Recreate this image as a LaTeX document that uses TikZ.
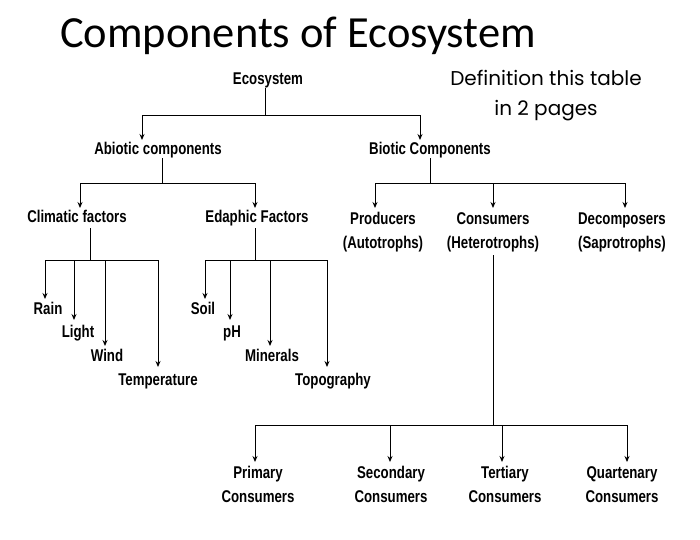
\documentclass[tikz,border=0pt]{standalone}
\usepackage{fontspec}
\setmainfont{Liberation Sans}
\newfontfamily\nar[FakeStretch=0.78]{Liberation Sans}
\newfontfamily\ttl{Carlito}
\newfontfamily\dfn{Poppins}
\usetikzlibrary{arrows.meta}
\begin{document}
\begin{tikzpicture}[x=1pt,y=-1pt,
  lab/.style={font=\nar\bfseries\fontsize{17}{24}\selectfont,inner sep=1pt,align=center,text height=12pt,text depth=3pt},
  ln/.style={line width=0.9pt},
  ar/.style={line width=0.9pt,-{Stealth[length=6pt,width=5pt]}}]
\useasboundingbox (0,0) rectangle (700,539);
\fill[white] (0,0) rectangle (700,539);
\node[font=\ttl\fontsize{44.5}{48}\selectfont] (title) at (298,36) {Components of Ecosystem};
\node[font=\dfn\fontsize{20}{30}\selectfont,align=center] (def) at (546,96) {Definition this table\\in 2 pages};
% level nodes
\node[lab] (eco) at (268,80) {Ecosystem};
\node[lab] (abio) at (158,150) {Abiotic components};
\node[lab] (bio) at (430,150) {Biotic Components};
\node[lab] (clim) at (77,218) {Climatic factors};
\node[lab] (edap) at (257,218) {Edaphic Factors};
\node[lab] (prod) at (383,244) {Producers\\(Autotrophs)};
\node[lab] (cons) at (493,244) {Consumers\\(Heterotrophs)};
\node[lab] (deco) at (622,244) {Decomposers\\(Saprotrophs)};
\node[lab] (rain) at (48,310) {Rain};
\node[lab] (light) at (78,333) {Light};
\node[lab] (wind) at (107,357) {Wind};
\node[lab] (temp) at (158,381) {Temperature};
\node[lab] (soil) at (203,310) {Soil};
\node[lab] (ph) at (232,333) {pH};
\node[lab] (min) at (272,357) {Minerals};
\node[lab] (topo) at (333,381) {Topography};
\node[lab] (prim) at (258,498) {Primary\\Consumers};
\node[lab] (sec) at (391,498) {Secondary\\Consumers};
\node[lab] (ter) at (505,498) {Tertiary\\Consumers};
\node[lab] (qua) at (622,498) {Quartenary\\Consumers};
% ecosystem
\draw[ln] (265,88) -- (265,115);
\draw[ln] (142,115) -- (420,115);
\draw[ar] (142,115) -- (142,140);
\draw[ar] (420,115) -- (420,140);
% abiotic
\draw[ln] (162,158) -- (162,183);
\draw[ln] (80,183) -- (255,183);
\draw[ar] (80,183) -- (80,208);
\draw[ar] (255,183) -- (255,208);
% biotic
\draw[ln] (430,158) -- (430,183);
\draw[ln] (375,183) -- (625,183);
\draw[ar] (375,183) -- (375,208);
\draw[ar] (493,183) -- (493,208);
\draw[ar] (625,183) -- (625,208);
% climatic
\draw[ln] (90,228) -- (90,260);
\draw[ln] (45,260) -- (158,260);
\draw[ar] (45,260) -- (45,299);
\draw[ar] (74,260) -- (74,320);
\draw[ar] (105,260) -- (105,346);
\draw[ar] (158,260) -- (158,367);
% edaphic
\draw[ln] (255,228) -- (255,260);
\draw[ln] (205,260) -- (327,260);
\draw[ar] (205,260) -- (205,299);
\draw[ar] (230,260) -- (230,320);
\draw[ar] (270,260) -- (270,346);
\draw[ar] (327,260) -- (327,367);
% consumers
\draw[ln] (493,255) -- (493,425);
\draw[ln] (255,425) -- (627,425);
\draw[ar] (255,425) -- (255,462);
\draw[ar] (390,425) -- (390,462);
\draw[ar] (502,425) -- (502,462);
\draw[ar] (627,425) -- (627,462);
\end{tikzpicture}
\end{document}
